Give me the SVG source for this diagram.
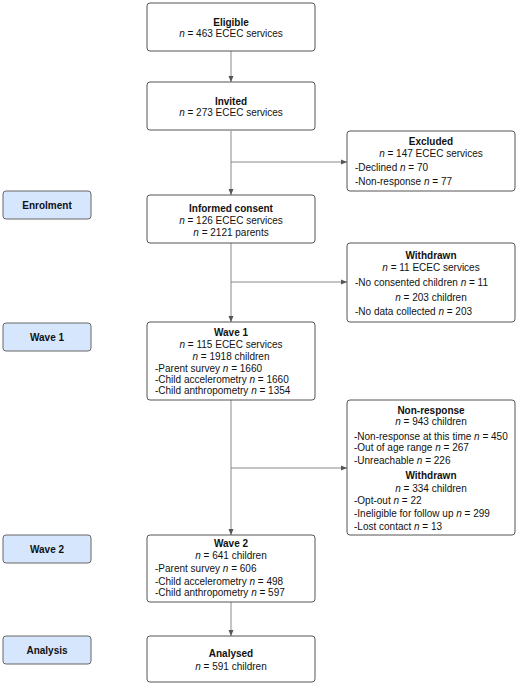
<svg xmlns="http://www.w3.org/2000/svg" width="517" height="685" viewBox="0 0 517 685">
<defs>
<marker id="arr" viewBox="0 0 6 6" refX="6" refY="3" markerWidth="6" markerHeight="6" markerUnits="userSpaceOnUse" orient="auto">
<path d="M0,0.5 L6,3 L0,5.5 Z" fill="#555"/>
</marker>
<style>
.box{fill:#fff;stroke:#555;stroke-width:1}
.lab{fill:#d6e6fd;stroke:#666;stroke-width:1}
text{font-family:"Liberation Sans",Arial,Helvetica,sans-serif;font-size:10px;fill:#111}
.t{font-weight:bold}
.c{text-anchor:middle}
.i{font-style:italic}
.con{stroke:#8a8a8a;stroke-width:1;fill:none;marker-end:url(#arr)}
</style>
</defs>
<rect width="517" height="685" fill="#fff"/>

<g id="connectors">
<line class="con" x1="231" y1="51" x2="231" y2="82"/>
<line class="con" x1="231" y1="131" x2="231" y2="195"/>
<line class="con" x1="231" y1="162" x2="347" y2="162"/>
<line class="con" x1="231" y1="243" x2="231" y2="322"/>
<line class="con" x1="231" y1="282" x2="347" y2="282"/>
<line class="con" x1="231" y1="400" x2="231" y2="535"/>
<line class="con" x1="231" y1="468" x2="347" y2="468"/>
<line class="con" x1="231" y1="602" x2="231" y2="636"/>
</g>

<g id="label-enrolment">
<rect class="lab" x="3" y="191" width="88" height="28" rx="3"/>
<text class="t c" x="47" y="208.5">Enrolment</text>
</g>
<g id="label-wave1">
<rect class="lab" x="3" y="323" width="88" height="28" rx="3"/>
<text class="t c" x="47" y="340.5">Wave 1</text>
</g>
<g id="label-wave2">
<rect class="lab" x="3" y="535" width="88" height="28" rx="3"/>
<text class="t c" x="47" y="552.5">Wave 2</text>
</g>
<g id="label-analysis">
<rect class="lab" x="3" y="636" width="88" height="28" rx="3"/>
<text class="t c" x="47" y="653.5">Analysis</text>
</g>

<g id="eligible">
<rect class="box" x="147" y="3" width="168" height="48" rx="3"/>
<text class="t c" x="231" y="25.5">Eligible</text>
<text class="c" x="231" y="37"><tspan class="i">n</tspan> = 463 ECEC services</text>
</g>

<g id="invited">
<rect class="box" x="147" y="82" width="168" height="48" rx="3"/>
<text class="t c" x="231" y="104.5">Invited</text>
<text class="c" x="231" y="116"><tspan class="i">n</tspan> = 273 ECEC services</text>
</g>

<g id="excluded">
<rect class="box" x="347" y="131" width="168" height="60" rx="3"/>
<text class="t c" x="431" y="144.5">Excluded</text>
<text class="c" x="431" y="157"><tspan class="i">n</tspan> = 147 ECEC services</text>
<text x="355" y="171">-Declined <tspan class="i">n</tspan> = 70</text>
<text x="355" y="184.5">-Non-response <tspan class="i">n</tspan> = 77</text>
</g>

<g id="consent">
<rect class="box" x="147" y="195" width="168" height="48" rx="3"/>
<text class="t c" x="231" y="211.5">Informed consent</text>
<text class="c" x="231" y="223.5"><tspan class="i">n</tspan> = 126 ECEC services</text>
<text class="c" x="231" y="235.5"><tspan class="i">n</tspan> = 2121 parents</text>
</g>

<g id="withdrawn1">
<rect class="box" x="347" y="243" width="168" height="79" rx="3"/>
<text class="t c" x="431" y="258.5">Withdrawn</text>
<text class="c" x="431" y="270.5"><tspan class="i">n</tspan> = 11 ECEC services</text>
<text x="355" y="285.5">-No consented children <tspan class="i">n</tspan> = 11</text>
<text class="c" x="431" y="300.5"><tspan class="i">n</tspan> = 203 children</text>
<text x="355" y="314.5">-No data collected <tspan class="i">n</tspan> = 203</text>
</g>

<g id="wave1">
<rect class="box" x="147" y="322" width="168" height="78" rx="3"/>
<text class="t c" x="231" y="336">Wave 1</text>
<text class="c" x="231" y="348"><tspan class="i">n</tspan> = 115 ECEC services</text>
<text class="c" x="231" y="360"><tspan class="i">n</tspan> = 1918 children</text>
<text x="155" y="371.5">-Parent survey <tspan class="i">n</tspan> = 1660</text>
<text x="155" y="382.5">-Child accelerometry <tspan class="i">n</tspan> = 1660</text>
<text x="155" y="393.5">-Child anthropometry <tspan class="i">n</tspan> = 1354</text>
</g>

<g id="nonresponse">
<rect class="box" x="347" y="400" width="168" height="135" rx="3"/>
<text class="t c" x="431" y="413.5">Non-response</text>
<text class="c" x="431" y="424.5"><tspan class="i">n</tspan> = 943 children</text>
<text x="354" y="439.5">-Non-response at this time <tspan class="i">n</tspan> = 450</text>
<text x="354" y="450.5">-Out of age range <tspan class="i">n</tspan> = 267</text>
<text x="354" y="463.5">-Unreachable <tspan class="i">n</tspan> = 226</text>
<text class="t c" x="431" y="479">Withdrawn</text>
<text class="c" x="431" y="491.5"><tspan class="i">n</tspan> = 334 children</text>
<text x="354" y="504">-Opt-out <tspan class="i">n</tspan> = 22</text>
<text x="354" y="517">-Ineligible for follow up <tspan class="i">n</tspan> = 299</text>
<text x="354" y="530">-Lost contact <tspan class="i">n</tspan> = 13</text>
</g>

<g id="wave2">
<rect class="box" x="147" y="535" width="168" height="67" rx="3"/>
<text class="t c" x="231" y="547">Wave 2</text>
<text class="c" x="231" y="558.5"><tspan class="i">n</tspan> = 641 children</text>
<text x="155" y="571.5">-Parent survey <tspan class="i">n</tspan> = 606</text>
<text x="155" y="584.5">-Child accelerometry <tspan class="i">n</tspan> = 498</text>
<text x="155" y="596">-Child anthropometry <tspan class="i">n</tspan> = 597</text>
</g>

<g id="analysed">
<rect class="box" x="147" y="636" width="168" height="46" rx="3"/>
<text class="t c" x="231" y="656.5">Analysed</text>
<text class="c" x="231" y="669.5"><tspan class="i">n</tspan> = 591 children</text>
</g>
</svg>
